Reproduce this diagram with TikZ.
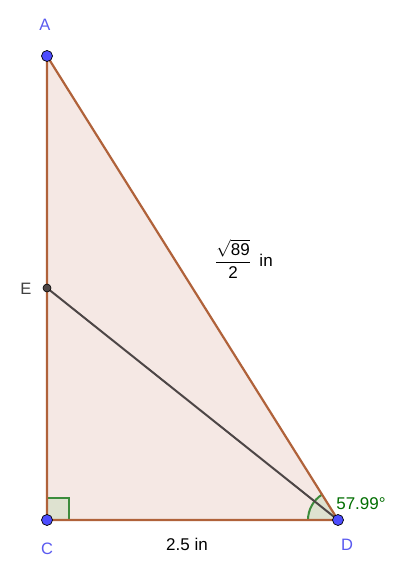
\documentclass[tikz,border=0pt]{standalone}
\usepackage{amsmath}
\usepackage{fontspec}
\setmainfont{Liberation Sans}
\begin{document}
\begin{tikzpicture}[x=1pt,y=-1pt,
  seg/.style={draw=edgec,line width=2.2pt},
  pt/.style={circle,fill=ptblue,draw=black,line width=0.7pt,inner sep=0pt,minimum size=11pt},
  ptsmall/.style={circle,fill=segc,draw=black,line width=0.6pt,inner sep=0pt,minimum size=8pt},
  lab/.style={font=\fontsize{16.5}{19}\selectfont,text=labblue},
  meas/.style={font=\fontsize{17}{19}\selectfont,text=black}]
\definecolor{edgec}{RGB}{176,98,58}
\definecolor{fillc}{RGB}{245,232,228}
\definecolor{angfill}{RGB}{222,226,208}
\definecolor{ptblue}{RGB}{77,77,255}
\definecolor{labblue}{RGB}{90,90,240}
\definecolor{angc}{RGB}{0,110,0}
\definecolor{anglc}{RGB}{60,140,60}
\definecolor{segc}{RGB}{77,70,70}
\useasboundingbox (0,0) rectangle (406,585);
\fill[white] (0,0) rectangle (406,585);
\coordinate (A) at (47,56);
\coordinate (C) at (47,520);
\coordinate (D) at (338,520);
\coordinate (E) at (47,288);
\fill[fillc] (A) -- (C) -- (D) -- cycle;
% right angle
\fill[angfill] (C) rectangle ++(22,-22);
\draw[anglc,line width=2pt] (47,498) -- (69,498) -- (69,520);
% angle at D
\fill[angfill] (D) -- ++(180:30) arc[start angle=180,end angle=237.9,radius=30] -- cycle;
\draw[anglc,line width=2pt] (D) ++(180:30) arc[start angle=180,end angle=237.9,radius=30];
\draw[segc,line width=2pt] (E) -- (D);
\draw[seg] (A) -- (C) -- (D) -- cycle;
\node[pt] (a) at (A) {};
\node[pt] (c) at (C) {};
\node[pt] (d) at (D) {};
\node[ptsmall] (e) at (E) {};
\node[lab] (la) at (45,25) {A};
\node[lab,text=darkgray] (le) at (26,289) {E};
\node[lab] (lc) at (47,549) {C};
\node[lab] (ld) at (347,545) {D};
\node[meas,text=angc] (ang) at (361,504) {57.99°};
\node[meas] (hyp) at (244,259) {$\dfrac{\sqrt{\text{89}}}{\text{2}}$\hspace{0.5em}in};
\node[meas] (base) at (187,544) {2.5 in};
\end{tikzpicture}
\end{document}
